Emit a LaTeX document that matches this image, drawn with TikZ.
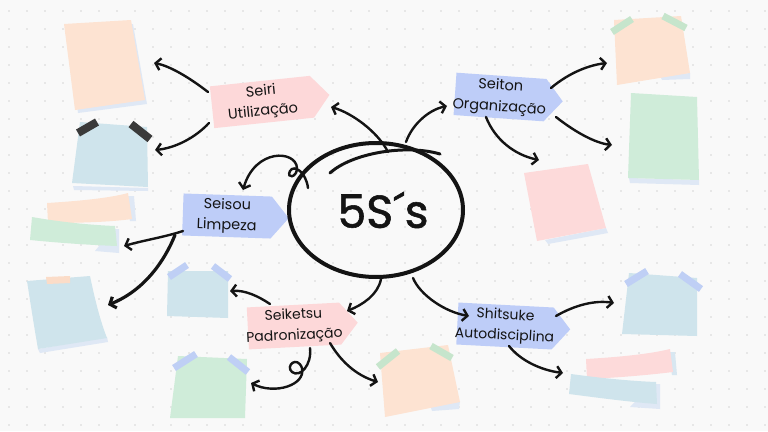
\documentclass[tikz,border=0pt]{standalone}
\usepackage{fontspec}
\setmainfont{Poppins}
\newfontfamily\bigfont{Poppins}[FakeBold=1.2]
\usetikzlibrary{arrows.meta,shapes.symbols,shapes.geometric}
\definecolor{bgc}{HTML}{F9F9F9}
\definecolor{dotc}{HTML}{D6D6D6}
\definecolor{peach}{HTML}{FDE3D2}
\definecolor{pinknote}{HTML}{FDDADA}
\definecolor{lblue}{HTML}{CFE4EC}
\definecolor{gnote}{HTML}{CFECD9}
\definecolor{tapeblue}{HTML}{BFCFF5}
\definecolor{tapegreen}{HTML}{C6E5CC}
\definecolor{tapepeach}{HTML}{FBDCC8}
\definecolor{tapedark}{HTML}{3A3A3A}
\definecolor{shadowc}{HTML}{DFE8F5}
\definecolor{labelpink}{HTML}{FDD8D9}
\definecolor{labelblue}{HTML}{BECDF8}
\definecolor{ink}{HTML}{141414}
\begin{document}
\begin{tikzpicture}[x=1pt,y=-1pt,
  arr/.style={draw=ink,line width=2.4pt,line cap=round,-{Straight Barb[length=5pt,width=12pt]}},
  tag/.style={signal,signal to=east,signal pointer angle=100,align=center,inner xsep=-2pt,inner ysep=3pt,
    minimum height=42pt,text=ink,font=\fontsize{14.5}{20.3}\selectfont},
  tape/.style={line width=7pt},
]
\useasboundingbox (0,0) rectangle (768,431);
\fill[bgc] (0,0) rectangle (768,431);
\foreach \i in {0,...,42}{\foreach \j in {0,...,23}{\fill[dotc] (9+18*\i,11+18*\j) circle (0.8pt);}}

% ---- sticky notes ----
% A
\fill[shadowc] (66,28) -- (133,24) -- (147,104) -- (78,113) -- cycle;
\fill[peach] (64,24) -- (131,20) -- (145,100) -- (75,110) -- cycle;
% B
\fill[shadowc] (73,186) -- (148,188) -- (148,191) -- (74,190) -- cycle;
\fill[lblue] (80,122) -- (147,127) -- (148,187) -- (72,183) -- cycle;
\draw[tape,line width=8pt,tapedark] (78,133) -- (97,122);
\draw[tape,line width=8pt,tapedark] (131,124) -- (150,139);
% C
\fill[shadowc] (126,196) -- (134,196) -- (136,221) -- (130,221) -- cycle;
\fill[peach] (47,203) .. controls (80,201) and (110,198) .. (128,193) -- (132,219) .. controls (110,222) and (80,223) .. (48,223) -- cycle;
% D
\fill[shadowc] (113,229) -- (119,229) -- (119,253) -- (95,251) -- cycle;
\fill[gnote] (32,217) .. controls (60,222) and (90,225) .. (115,226) -- (117,246) .. controls (90,245) and (60,243) .. (30,240) -- cycle;
% E
\fill[shadowc] (38,349) -- (107,337) -- (108,342) -- (40,353) -- cycle;
\fill[lblue] (27,281) -- (90,276) .. controls (95,300) and (100,320) .. (107,338) -- (38,349) .. controls (33,320) and (30,300) .. (27,281) -- cycle;
\fill[tapepeach] (46,277) -- (70,276) -- (70,283) -- (47,284) -- cycle;
% F
\fill[lblue] (168,271) -- (228,271) -- (228,318) -- (167,316) -- cycle;
\draw[tape,tapeblue] (169,277) -- (187,265);
\draw[tape,tapeblue] (213,266) -- (230,279);
% G
\fill[gnote] (178,356) -- (247,359) -- (245,418) -- (170,418) -- cycle;
\draw[tape,tapeblue] (174,368) -- (196,354);
\draw[tape,tapeblue] (229,357) -- (248,372);
% H
\fill[shadowc] (430,405) -- (460,401) -- (459,409) -- (432,411) -- cycle;
\fill[peach] (380,353) -- (448,345) -- (460,402) -- (385,417) -- cycle;
\draw[tape,tapegreen] (378,367) -- (398,351);
\draw[tape,tapegreen] (431,346) -- (452,358);
% I
\fill[shadowc] (545,240) -- (606,228) -- (608,233) -- (548,244) -- cycle;
\fill[pinknote] (524,173) -- (588,164) -- (606,228) -- (537,241) -- cycle;
% J
\fill[shadowc] (660,76) -- (690,73) -- (690,79) -- (662,80) -- cycle;
\fill[peach] (614,20) -- (681,16) -- (690,73) -- (617,85) -- cycle;
\draw[tape,tapegreen] (612,32) -- (632,19);
\draw[tape,tapegreen] (663,16) -- (686,28);
% K
\fill[shadowc] (629,178) -- (699,180) -- (699,185) -- (630,183) -- cycle;
\fill[gnote] (631,93) -- (697,97) -- (699,180) -- (628,178) -- cycle;
% L
\fill[lblue] (629,273) -- (697,278) -- (697,336) -- (622,334) -- cycle;
\draw[tape,tapeblue] (626,284) -- (647,271);
\draw[tape,tapeblue] (680,274) -- (701,289);
% M
\fill[shadowc!60!lblue] (668,352) -- (675,352) -- (677,375) -- (672,375) -- cycle;
\fill[pinknote] (586,359) .. controls (620,357) and (650,354) .. (670,349) -- (673,372) .. controls (640,376) and (610,378) .. (587,379) -- cycle;
% N
\fill[shadowc] (652,384) -- (660,384) -- (660,409) -- (630,407) -- cycle;
\fill[lblue] (571,374) .. controls (600,378) and (630,381) .. (656,382) -- (657,404) .. controls (630,402) and (600,398) .. (569,394) -- cycle;

% ---- labels ----
\node[tag,fill=labelpink,minimum width=118pt,rotate=6] (seiri) at (262,102) {Seiri\\Utilização};
\node[tag,fill=labelblue,minimum width=108pt,rotate=-4,font=\fontsize{14.5}{21.5}\selectfont] (seiton) at (500,97) {Seiton\\Organização};
\node[tag,fill=labelblue,minimum width=106pt,rotate=-2] (seisou) at (227,216) {Seisou\\Limpeza};
\node[tag,fill=labelpink,minimum width=98pt,rotate=3,font=\fontsize{14}{20.3}\selectfont] (seiketsu) at (294,326) {Seiketsu\\Padronização};
\node[tag,fill=labelblue,minimum width=100pt,rotate=-3,font=\fontsize{14}{20.3}\selectfont] (shitsuke) at (505,326) {Shitsuke\\Autodisciplina};

% ---- central ellipse ----
\node[ellipse,minimum width=176pt,minimum height=136pt,
  font=\bigfont\fontsize{46}{48}\selectfont,text=ink] (core) at (376,210) {\hspace*{14pt}5S´s};
\draw[ink,line width=4pt] (core.center) ellipse [x radius=87pt, y radius=67pt];
\draw[ink,line width=3pt,line cap=round] ([shift={(-46,-37)}]core.center) .. controls ([shift={(-24,-57)}]core.center) and ([shift={(30,-66)}]core.center) .. ([shift={(64,-56)}]core.center);

% ---- end points on notes ----
\coordinate (eA) at (154,63);
\coordinate (eB) at (155,150);
\coordinate (eJ) at (607,63);
\coordinate (eK) at (612,145);
\coordinate (eI) at (539,160);
\coordinate (eD) at (124,246);
\coordinate (eE) at (108,305);
\coordinate (eF) at (230,291);
\coordinate (eG) at (251,383);
\coordinate (eH) at (378,382);
\coordinate (eL) at (614,303);
\coordinate (eMN) at (563,373);

% ---- connectors ----
\draw[arr] ([shift={(-54,-10)}]seiri.center) .. controls (190,78) and (170,66) .. (eA);
\draw[arr] ([shift={(-53,21)}]seiri.center) .. controls (195,138) and (175,148) .. (eB);
\draw[arr] ([shift={(12,-58)}]core.center) .. controls (378,132) and (352,113) .. ([shift={(69,5)}]seiri.center);
\draw[arr] ([shift={(30,-68)}]core.center) .. controls (412,125) and (428,110) .. ([shift={(-53,9)}]seiton.center);
\draw[arr] ([shift={(51,-9)}]seiton.center) .. controls (570,72) and (590,65) .. (eJ);
\draw[arr] ([shift={(56,20)}]seiton.center) .. controls (575,132) and (595,143) .. (eK);
\draw[arr] ([shift={(-14,20)}]seiton.center) .. controls (495,140) and (515,155) .. (eI);
\draw[arr] ([shift={(-68,-22)}]core.center) .. controls (306,172) and (294,164) .. (290,171) .. controls (286,179) and (297,178) .. (297,168) .. controls (296,150) and (255,148) .. ([shift={(16,-26)}]seisou.center);
\draw[arr] ([shift={(-44,15)}]seisou.center) .. controls (165,237) and (145,240) .. (eD);
\draw[arr,line width=3.2pt] ([shift={(-52,19)}]seisou.center) .. controls (165,260) and (145,290) .. (eE);
\draw[arr] ([shift={(5,69)}]core.center) .. controls (378,295) and (362,305) .. ([shift={(53,-15)}]seiketsu.center);
\draw[arr] ([shift={(-24,-22)}]seiketsu.center) .. controls (258,296) and (245,290) .. (eF);
\draw[arr] ([shift={(16,22)}]seiketsu.center) .. controls (312,365) and (300,378) .. (292,372) .. controls (285,366) and (297,355) .. (302,368) .. controls (306,385) and (275,395) .. (eG);
\draw[arr] ([shift={(36,17)}]seiketsu.center) .. controls (340,360) and (355,375) .. (eH);
\draw[arr] ([shift={(37,68)}]core.center) .. controls (420,295) and (445,312) .. ([shift={(-36,-10)}]shitsuke.center);
\draw[arr] ([shift={(51,-10)}]shitsuke.center) .. controls (575,305) and (595,300) .. (eL);
\draw[arr] ([shift={(4,20)}]shitsuke.center) .. controls (520,360) and (540,370) .. (eMN);
\end{tikzpicture}
\end{document}
